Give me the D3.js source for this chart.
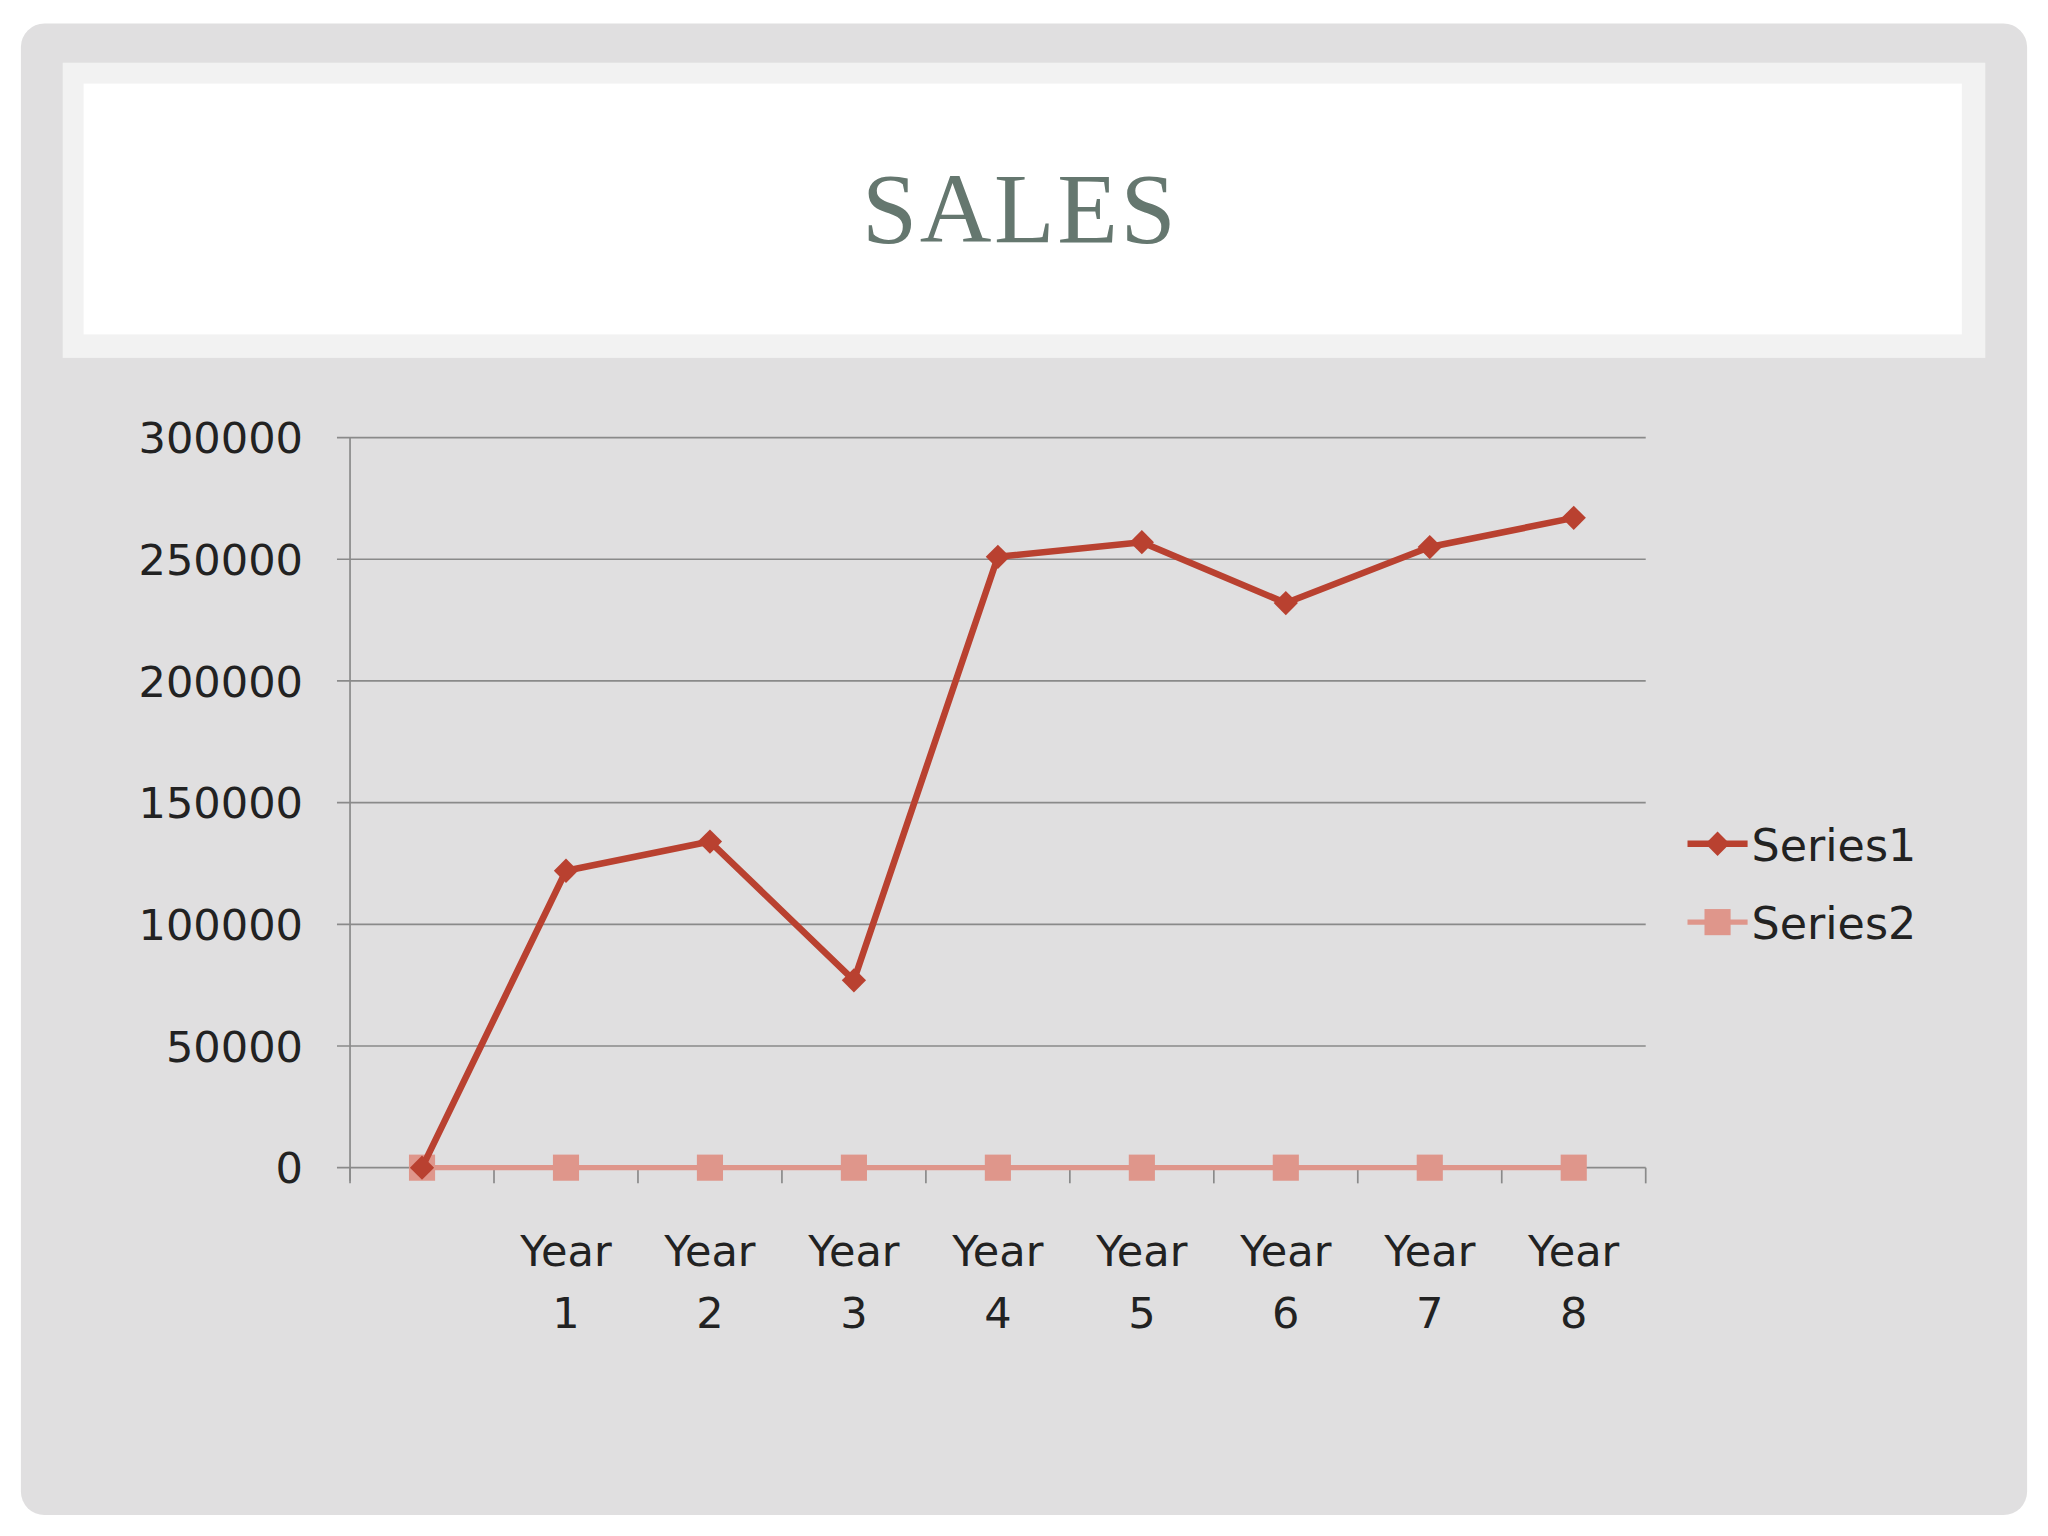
<!DOCTYPE html>
<html><head><meta charset="utf-8">
<script src="https://cdn.jsdelivr.net/npm/d3@7"></script>
<style>body{margin:0;background:#fff}</style>
</head><body>
<script>
// chart data
var categories = ["", "Year 1", "Year 2", "Year 3", "Year 4", "Year 5", "Year 6", "Year 7", "Year 8"];
var series1 = [0, 122000, 134000, 77000, 251000, 257000, 232000, 255000, 267000];
var series2 = [0, 0, 0, 0, 0, 0, 0, 0, 0];
var yTicks = [0, 50000, 100000, 150000, 200000, 250000, 300000];
var seriesNames = ["Series1", "Series2"];

var svg = d3.select("body").append("svg")
  .attr("width", 2048).attr("height", 1536)
  .attr("viewBox", "0 0 1568 1176");

svg.append("rect").attr("width", 1568).attr("height", 1176).attr("fill", "#fff");
svg.append("rect").attr("x", 16).attr("y", 18).attr("width", 1536).attr("height", 1142)
  .attr("rx", 18).attr("fill", "#e0dfe0");
svg.append("rect").attr("x", 48).attr("y", 48).attr("width", 1472).attr("height", 226).attr("fill", "#f2f2f2");
svg.append("rect").attr("x", 64).attr("y", 64).attr("width", 1438).attr("height", 192).attr("fill", "#fff");
svg.append("text").attr("x", 781).attr("y", 185).attr("text-anchor", "middle")
  .attr("font-family", "Liberation Serif, serif").attr("font-size", 76)
  .attr("fill", "#65776f").attr("letter-spacing", 2).text("SALES");

var x = d3.scaleBand().domain(categories.map(function(d, i){ return i; })).range([268, 1260]);
var y = d3.scaleLinear().domain([0, 300000]).range([894, 335]);
var font = "DejaVu Sans, sans-serif";

// gridlines
svg.append("g").selectAll("line").data(yTicks).join("line")
  .attr("x1", 258).attr("x2", 1260).attr("y1", y).attr("y2", y)
  .attr("stroke", "#8a8a8a").attr("stroke-width", 1.3);

// y axis line + labels
svg.append("line").attr("x1", 268).attr("x2", 268).attr("y1", 335).attr("y2", 904)
  .attr("stroke", "#8a8a8a").attr("stroke-width", 1.3);
svg.append("g").selectAll("text").data(yTicks).join("text")
  .attr("x", 232).attr("y", function(d){ return y(d) + 12; }).attr("text-anchor", "end")
  .attr("font-family", font).attr("font-size", 33).attr("fill", "#222").text(function(d){ return d; });

// x ticks
var bounds = d3.range(categories.length + 1).map(function(i){ return 268 + i * x.bandwidth(); });
svg.append("g").selectAll("line").data(bounds).join("line")
  .attr("x1", function(d){ return d; }).attr("x2", function(d){ return d; })
  .attr("y1", 894).attr("y2", 906).attr("stroke", "#8a8a8a").attr("stroke-width", 1.3);

var cx = function(i){ return x(i) + x.bandwidth() / 2; };
var xl = svg.append("g").selectAll("text").data(categories).join("text")
  .attr("text-anchor", "middle").attr("font-family", font).attr("font-size", 33).attr("fill", "#222");
xl.append("tspan").attr("x", function(d, i){ return cx(i); }).attr("y", 969)
  .text(function(d){ return d.split(" ")[0] || ""; });
xl.append("tspan").attr("x", function(d, i){ return cx(i); }).attr("y", 1017)
  .text(function(d){ return d.split(" ")[1] || ""; });

var line = d3.line().x(function(d, i){ return cx(i); }).y(function(d){ return y(d); });
var c1 = "#b94130", c2 = "#df968b";

svg.append("path").datum(series2).attr("d", line).attr("fill", "none").attr("stroke", c2).attr("stroke-width", 4);
svg.append("g").selectAll("rect").data(series2).join("rect")
  .attr("x", function(d, i){ return cx(i) - 10; }).attr("y", function(d){ return y(d) - 10; })
  .attr("width", 20).attr("height", 20).attr("fill", c2);

svg.append("path").datum(series1).attr("d", line).attr("fill", "none").attr("stroke", c1)
  .attr("stroke-width", 5).attr("stroke-linejoin", "round");
var diamond = d3.symbol().type(d3.symbolDiamond2).size(220);
svg.append("g").selectAll("path").data(series1).join("path")
  .attr("transform", function(d, i){ return "translate(" + cx(i) + "," + y(d) + ")"; })
  .attr("d", diamond).attr("fill", c1);

// legend
var lg = svg.append("g").selectAll("g").data(seriesNames).join("g")
  .attr("transform", function(d, i){ return "translate(1292," + (646 + i * 60) + ")"; });
lg.append("line").attr("x1", 0).attr("x2", 46).attr("stroke", function(d, i){ return i ? c2 : c1; })
  .attr("stroke-width", function(d, i){ return i ? 4 : 5; });
lg.append("path").attr("transform", "translate(23,0)")
  .attr("d", function(d, i){ return i ? d3.symbol().type(d3.symbolSquare).size(400)() : diamond(); })
  .attr("fill", function(d, i){ return i ? c2 : c1; });
lg.append("text").attr("x", 49).attr("y", 13).attr("font-family", font).attr("font-size", 34)
  .attr("fill", "#222").text(function(d){ return d; });
</script>
</body></html>
